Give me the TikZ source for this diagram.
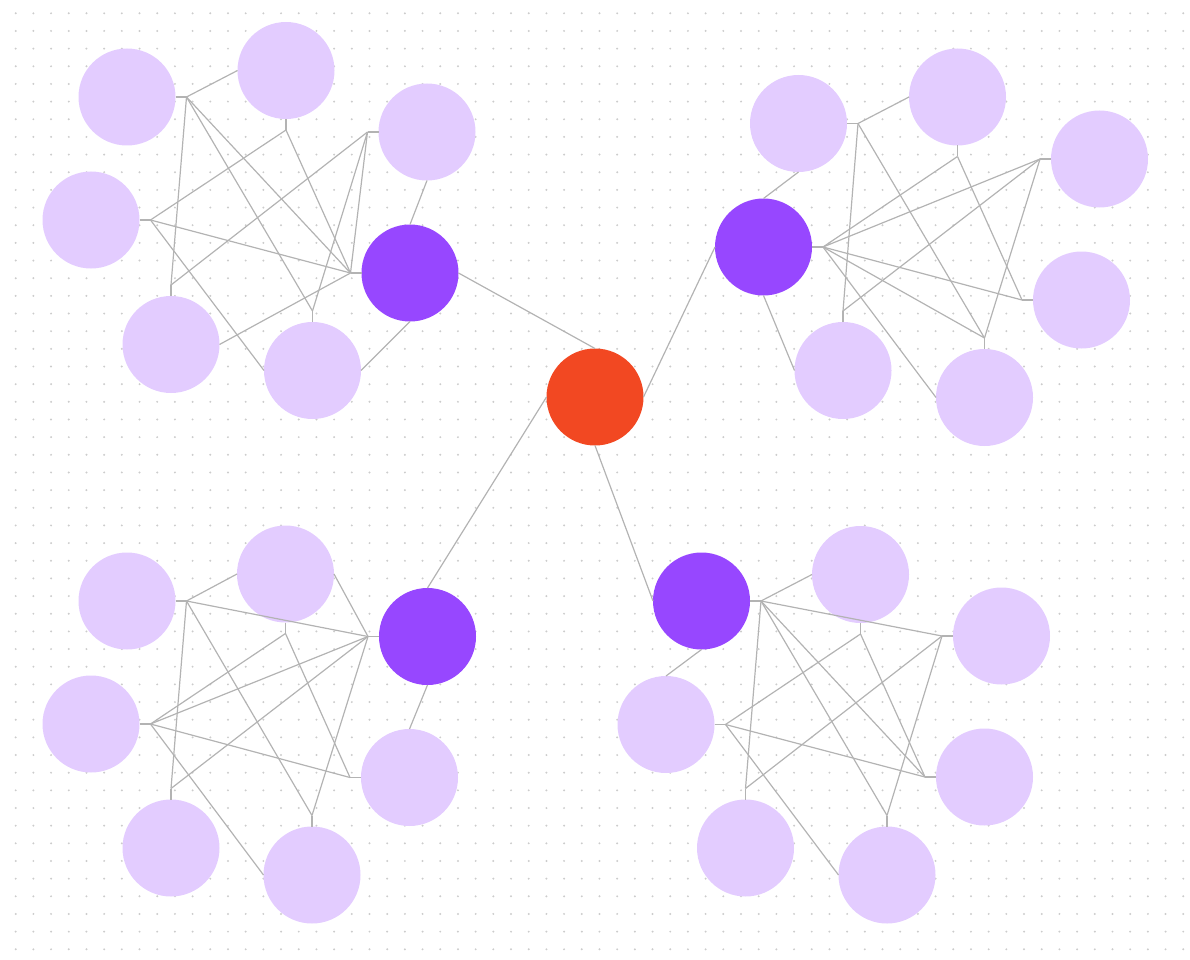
\documentclass[tikz,border=0pt]{standalone}
\usepackage{tikz}
\usetikzlibrary{positioning}
\definecolor{leafc}{HTML}{E3CCFF}
\definecolor{hubc}{HTML}{9747FF}
\definecolor{rootc}{HTML}{F24822}
\definecolor{linkc}{HTML}{B3B3B3}
\definecolor{dotc}{HTML}{CCCCCC}
\begin{document}
\begin{tikzpicture}[x=1pt,y=-1pt,leaf/.style={circle,fill=leafc,minimum size=97pt,inner sep=0pt,outer sep=0pt},hub/.style={leaf,fill=hubc},root/.style={leaf,fill=rootc},link/.style={draw=linkc,line width=1.2pt}]
    \useasboundingbox (0,0) rectangle (1190,960);
    \foreach \i in {0,...,66}
      \foreach \j in {0,...,53}
        \fill[dotc] (15.7+17.69*\i,13.3+17.66*\j) circle (1.1);
    \node[root] (r) at (595,397) {};
    \node[hub] (h1) at (410,273) {};
    \node[hub] (h2) at (763.5,247) {};
    \node[hub] (h3) at (427.5,636.5) {};
    \node[hub] (h4) at (701.5,601) {};
    \node[leaf] (a1) at (127,97) {};
    \node[leaf] (a2) at (286,70.5) {};
    \node[leaf] (a3) at (427,132) {};
    \node[leaf] (a4) at (91,220) {};
    \node[leaf] (a5) at (171,344.5) {};
    \node[leaf] (a6) at (312.5,370.5) {};
    \node[leaf] (b1) at (798.5,123.5) {};
    \node[leaf] (b2) at (957.5,97) {};
    \node[leaf] (b3) at (1099.5,159) {};
    \node[leaf] (b4) at (1081.5,300) {};
    \node[leaf] (b5) at (843,370.5) {};
    \node[leaf] (b6) at (984.5,397.5) {};
    \node[leaf] (c1) at (127,601) {};
    \node[leaf] (c2) at (285.5,574) {};
    \node[leaf] (c3) at (91,724) {};
    \node[leaf] (c4) at (409.5,777.5) {};
    \node[leaf] (c5) at (171,848) {};
    \node[leaf] (c6) at (312,875) {};
    \node[leaf] (d1) at (860.5,574.5) {};
    \node[leaf] (d2) at (1001.5,636) {};
    \node[leaf] (d3) at (666,724.5) {};
    \node[leaf] (d4) at (984.5,777) {};
    \node[leaf] (d5) at (745.5,848) {};
    \node[leaf] (d6) at (887,875) {};
    \foreach \n in {a1,a4,b1,h2,c1,c3,h4,d3}
      \coordinate[right=11pt of \n] (\n p);
    \foreach \n in {a3,h1,b3,b4,h3,c4,d2,d4}
      \coordinate[left=11pt of \n] (\n p);
    \foreach \n in {a2,b2,c2,d1}
      \coordinate[below=11pt of \n] (\n p);
    \foreach \n in {a5,a6,b5,b6,c5,c6,d5,d6}
      \coordinate[above=11pt of \n] (\n p);
    \foreach \n in {a1,a2,a3,a4,a5,a6,h1,b1,b2,b3,b4,b5,b6,h2,c1,c2,c3,c4,c5,c6,h3,d1,d2,d3,d4,d5,d6,h4}
      \draw[link] (\n) -- (\n p);
    \foreach \u/\v in {a1p/a2.west,a1p/a5p,a1p/a6p,a1p/h1p,a2p/a4p,a2p/h1p,a3p/a5p,a3p/a6p,a3p/h1p,a4p/h1p,a4p/a6.west,a5.east/h1p,a6.east/h1.south,a3.south/h1.north,h1.east/r.north}
      \draw[link] (\u) -- (\v);
    \foreach \u/\v in {b1p/b2.west,b1p/b5p,b1p/b6p,b2p/h2p,b2p/b4p,b3p/h2p,b3p/b5p,b3p/b6p,h2p/b4p,h2p/b6p,h2p/b6.west,b1.south/h2.north,h2.south/b5.west,h2.west/r.east}
      \draw[link] (\u) -- (\v);
    \foreach \u/\v in {c1p/c2.west,c1p/h3p,c1p/c5p,c1p/c6p,c2p/c3p,c2p/c4p,c2.east/h3p,c3p/h3p,c3p/c4p,c3p/c6.west,h3p/c5p,h3p/c6p,h3.south/c4.north,h3.north/r.west}
      \draw[link] (\u) -- (\v);
    \foreach \u/\v in {h4p/d1.west,h4p/d2p,h4p/d5p,h4p/d6p,h4p/d4p,d1p/d3p,d1p/d4p,d2p/d5p,d2p/d6p,d3p/d4p,d3p/d6.west,h4.south/d3.north,h4.west/r.south}
      \draw[link] (\u) -- (\v);
\end{tikzpicture}
\end{document}
